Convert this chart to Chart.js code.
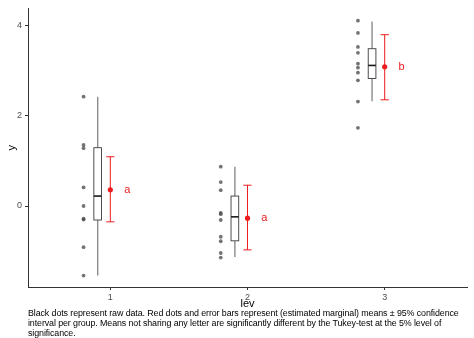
<!DOCTYPE html>
<html>
<head>
<meta charset="utf-8">
<script src="https://cdn.jsdelivr.net/npm/chart.js@4.4.1/dist/chart.umd.min.js"></script>
<style>
html, body { margin: 0; padding: 0; background: #fff; }
#wrap { position: relative; width: 474px; height: 338px; }
#note {
    position: absolute; left: 28px; top: 309px;
    font: 8.9px 'Liberation Sans', Arial, sans-serif;
    letter-spacing: -0.1px;
    line-height: 9.8px; color: #000; white-space: nowrap;
}
</style>
</head>
<body>
<div id="wrap">
    <canvas id="chart" width="474" height="338"></canvas>
    <div id="note">Black dots represent raw data. Red dots and error bars represent (estimated marginal) means ± 95% confidence<br>interval per group. Means not sharing any letter are significantly different by the Tukey-test at the 5% level of<br>significance.</div>
</div>
<script>
const categories = ['1', '2', '3'];

// raw observations per group
const rawGroup1 = [2.42, 1.35, 1.28, 0.41, 0.0, -0.28, -0.30, -0.91, -1.54];
const rawGroup2 = [0.87, 0.53, 0.35, -0.15, -0.18, -0.31, -0.68, -0.78, -1.04, -1.14];
const rawGroup3 = [4.10, 3.83, 3.52, 3.39, 3.15, 3.06, 2.95, 2.78, 2.31, 1.73];

// boxplot stats
const whiskerLow = [-1.54, -1.13, 2.32];
const boxQ1 = [-0.31, -0.77, 2.82];
const boxMedian = [0.22, -0.24, 3.11];
const boxQ3 = [1.29, 0.22, 3.48];
const whiskerHigh = [2.42, 0.87, 4.08];

// estimated marginal means + 95% CI
const emMeans = [0.36, -0.27, 3.08];
const ciLow = [-0.35, -0.97, 2.35];
const ciHigh = [1.09, 0.46, 3.79];
const groupLetters = ['a', 'a', 'b'];

const yTicks = [0, 2, 4];

const DOT_SHIFT = -0.195;
const BOX_SHIFT = -0.092;
const BOX_HALF = 0.028;
const CAP_HALF = 0.03;
const LETTER_SHIFT = 0.123;

let rawPoints = [];
[rawGroup1, rawGroup2, rawGroup3].forEach((g, i) => {
    g.forEach(v => rawPoints.push({ x: i + 1 + DOT_SHIFT, y: v }));
});
const meanPoints = emMeans.map((m, i) => ({ x: i + 1, y: m }));

// boxes, whiskers, error bars and letters
const extrasPlugin = {
    id: 'extras',
    beforeDatasetsDraw(chart) {
        const ctx = chart.ctx;
        const xs = chart.scales.x, ys = chart.scales.y;
        ctx.save();
        categories.forEach((c, i) => {
            const cx = xs.getPixelForValue(i + 1 + BOX_SHIFT);
            const l = xs.getPixelForValue(i + 1 + BOX_SHIFT - BOX_HALF);
            const r = xs.getPixelForValue(i + 1 + BOX_SHIFT + BOX_HALF);
            // whiskers
            ctx.strokeStyle = '#8c8c8c';
            ctx.lineWidth = 1.4;
            ctx.beginPath();
            ctx.moveTo(cx, ys.getPixelForValue(whiskerHigh[i]));
            ctx.lineTo(cx, ys.getPixelForValue(boxQ3[i]));
            ctx.moveTo(cx, ys.getPixelForValue(boxQ1[i]));
            ctx.lineTo(cx, ys.getPixelForValue(whiskerLow[i]));
            ctx.stroke();
            // box
            const top = ys.getPixelForValue(boxQ3[i]);
            const bot = ys.getPixelForValue(boxQ1[i]);
            ctx.fillStyle = '#fff';
            ctx.fillRect(l, top, r - l, bot - top);
            ctx.strokeStyle = '#3a3a3a';
            ctx.lineWidth = 0.9;
            ctx.strokeRect(l, top, r - l, bot - top);
            // median
            const my = ys.getPixelForValue(boxMedian[i]);
            ctx.lineWidth = 1.6;
            ctx.strokeStyle = '#1a1a1a';
            ctx.beginPath();
            ctx.moveTo(l, my);
            ctx.lineTo(r, my);
            ctx.stroke();

            // CI error bar
            const ex = xs.getPixelForValue(i + 1);
            const el = xs.getPixelForValue(i + 1 - CAP_HALF);
            const er = xs.getPixelForValue(i + 1 + CAP_HALF);
            const hi = ys.getPixelForValue(ciHigh[i]);
            const lo = ys.getPixelForValue(ciLow[i]);
            ctx.strokeStyle = '#ee1c1c';
            ctx.lineWidth = 1;
            ctx.beginPath();
            ctx.moveTo(ex, hi); ctx.lineTo(ex, lo);
            ctx.moveTo(el, hi); ctx.lineTo(er, hi);
            ctx.moveTo(el, lo); ctx.lineTo(er, lo);
            ctx.stroke();

            // letter
            ctx.fillStyle = '#ee1c1c';
            ctx.font = "11px 'Liberation Sans', Arial, sans-serif";
            ctx.textAlign = 'center';
            ctx.textBaseline = 'middle';
            ctx.fillText(groupLetters[i], xs.getPixelForValue(i + 1 + LETTER_SHIFT), ys.getPixelForValue(emMeans[i]));
        });
        ctx.restore();
    }
};

const tickFont = { family: "'Liberation Sans', Arial, sans-serif", size: 9 };

new Chart(document.getElementById('chart'), {
    type: 'scatter',
    data: {
        datasets: [
            {
                label: 'raw',
                data: rawPoints,
                pointRadius: 1.9,
                pointBackgroundColor: 'rgba(70,70,70,0.75)',
                pointBorderWidth: 0
            },
            {
                label: 'emmean',
                data: meanPoints,
                pointRadius: 2.6,
                pointBackgroundColor: '#ee1c1c',
                pointBorderWidth: 0
            }
        ]
    },
    options: {
        responsive: false,
        animation: false,
        layout: { padding: { top: 5, right: 7, left: 0, bottom: 0 } },
        plugins: {
            legend: { display: false },
            tooltip: { enabled: false }
        },
        scales: {
            x: {
                type: 'linear',
                min: 0.4,
                max: 3.6,
                afterBuildTicks: (scale) => {
                    scale.ticks = categories.map((c, i) => ({ value: i + 1 }));
                },
                afterFit: (scale) => { scale.height = 51; },
                ticks: {
                    callback: (v) => categories[v - 1],
                    color: '#4d4d4d',
                    font: tickFont,
                    padding: 2,
                    maxRotation: 0
                },
                grid: { drawOnChartArea: false, drawTicks: true, tickLength: 3, color: '#333' },
                border: { display: true, color: '#333', width: 1 },
                title: {
                    display: true,
                    text: 'lev',
                    color: '#000',
                    font: { family: "'Liberation Sans', Arial, sans-serif", size: 11 },
                    padding: { top: 0, bottom: 27 }
                }
            },
            y: {
                min: -1.792,
                max: 4.372,
                afterBuildTicks: (scale) => {
                    scale.ticks = yTicks.map(v => ({ value: v }));
                },
                afterFit: (scale) => { scale.width = 28; },
                ticks: {
                    color: '#4d4d4d',
                    font: tickFont,
                    padding: 3
                },
                grid: { drawOnChartArea: false, drawTicks: true, tickLength: 3, color: '#333' },
                border: { display: true, color: '#333', width: 1 },
                title: {
                    display: true,
                    text: 'y',
                    color: '#000',
                    font: { family: "'Liberation Sans', Arial, sans-serif", size: 11 },
                    padding: { top: 5, bottom: 0 }
                }
            }
        }
    },
    plugins: [extrasPlugin]
});
</script>
</body>
</html>
